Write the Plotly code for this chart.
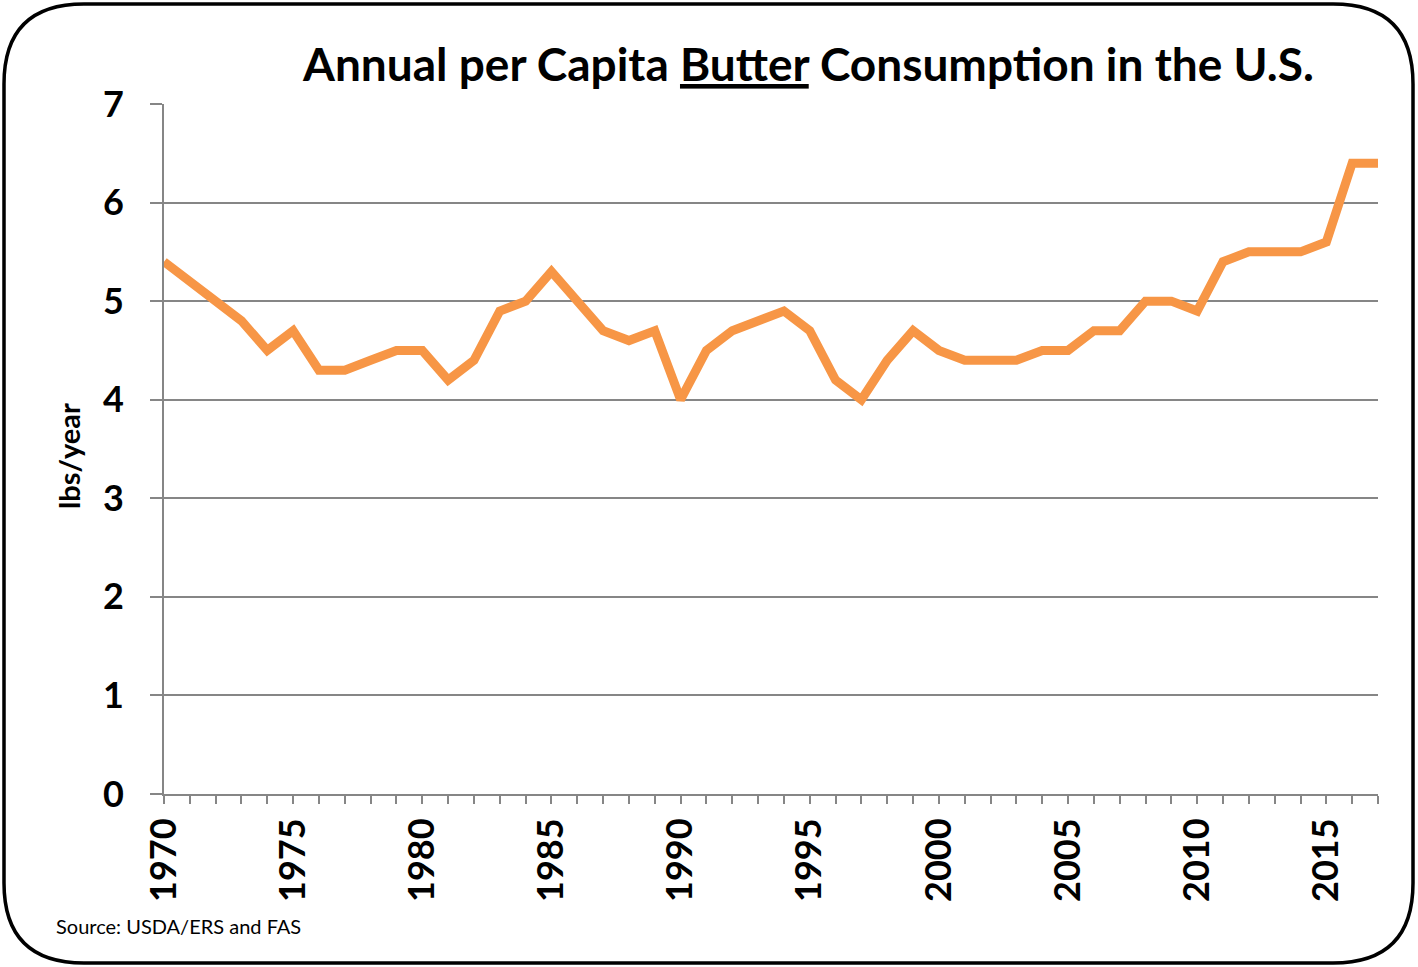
import plotly.graph_objects as go

years = list(range(1970, 2018))
butter_lbs = [5.4, 5.2, 5.0, 4.8, 4.5, 4.7, 4.3, 4.3, 4.4, 4.5,
              4.5, 4.2, 4.4, 4.9, 5.0, 5.3, 5.0, 4.7, 4.6, 4.7,
              4.0, 4.5, 4.7, 4.8, 4.9, 4.7, 4.2, 4.0, 4.4, 4.7,
              4.5, 4.4, 4.4, 4.4, 4.5, 4.5, 4.7, 4.7, 5.0, 5.0,
              4.9, 5.4, 5.5, 5.5, 5.5, 5.6, 6.4, 6.4]
y_ticks = [0, 1, 2, 3, 4, 5, 6, 7]
x_tick_text = [str(y) if y % 5 == 0 else "" for y in years]

W, H = 1418, 967
L, R, T, B = 164, 40, 104, 173
PW, PH = W - L - R, H - T - B

def px(x):
    return (x - L) / PW

def py(y):
    return 1 - (y - T) / PH

FONT = "Lato"

fig = go.Figure()
fig.add_trace(go.Scatter(
    x=years, y=butter_lbs, mode="lines",
    line=dict(color="#F79646", width=9, shape="linear"),
    hoverinfo="x+y", showlegend=False,
))

# rounded border
x0, x1, y0, y1, r = 4, 1413, 4, 963, 80
path = (f"M {px(x0 + r)} {py(y0)} L {px(x1 - r)} {py(y0)} "
        f"Q {px(x1)} {py(y0)} {px(x1)} {py(y0 + r)} "
        f"L {px(x1)} {py(y1 - r)} Q {px(x1)} {py(y1)} {px(x1 - r)} {py(y1)} "
        f"L {px(x0 + r)} {py(y1)} Q {px(x0)} {py(y1)} {px(x0)} {py(y1 - r)} "
        f"L {px(x0)} {py(y0 + r)} Q {px(x0)} {py(y0)} {px(x0 + r)} {py(y0)} Z")
fig.add_shape(type="path", path=path, xref="paper", yref="paper",
              line=dict(color="black", width=3.5), layer="above")

fig.add_annotation(text="Annual per Capita <u>Butter</u> Consumption in the U.S.",
                   x=px(808), y=py(64), xref="paper", yref="paper",
                   showarrow=False, xanchor="center", yanchor="middle",
                   font=dict(family=FONT, size=46, color="black", weight="bold"))
fig.add_annotation(text="lbs/year", x=px(68), y=py(456), xref="paper", yref="paper",
                   showarrow=False, textangle=-90, xanchor="center", yanchor="middle",
                   font=dict(family=FONT, size=29, color="black", weight="bold"))
fig.add_annotation(text="Source: USDA/ERS and FAS", x=px(54), y=py(926),
                   xref="paper", yref="paper", showarrow=False,
                   xanchor="left", yanchor="middle",
                   font=dict(family=FONT, size=20, color="black"))

fig.update_layout(
    width=W, height=H,
    margin=dict(l=L, r=R, t=T, b=B),
    paper_bgcolor="white", plot_bgcolor="white",
    xaxis=dict(range=[1970, 2017], tickmode="array", tickvals=years,
               ticktext=x_tick_text, tickangle=-90, ticks="outside", ticklen=8,
               tickwidth=2, tickcolor="#868686", showline=True, linecolor="#868686",
               linewidth=2, showgrid=False, zeroline=False,
               tickfont=dict(family=FONT, size=36, color="black", weight="bold")),
    yaxis=dict(range=[0, 7], tickvals=y_ticks, ticks="outside", ticklen=12,
               tickwidth=2, tickcolor="#868686", showline=True, linecolor="#868686",
               linewidth=2, showgrid=True, gridcolor="#868686", gridwidth=2,
               zeroline=False, ticklabelstandoff=19,
               tickfont=dict(family=FONT, size=36, color="black", weight="bold")),
)

fig.write_html("out.html", config={"displayModeBar": False},
               post_script="document.body.style.margin='0';")
